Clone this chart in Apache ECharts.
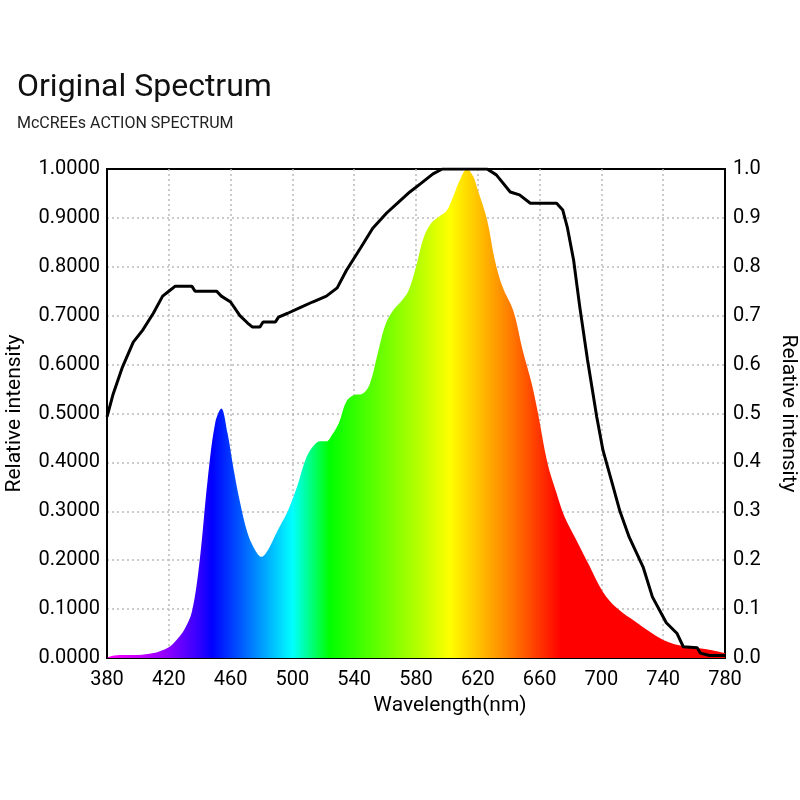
<!DOCTYPE html>
<html>
<head>
<meta charset="utf-8">
<script src="https://cdn.jsdelivr.net/npm/echarts@6/dist/echarts.min.js"></script>
<style>
html,body{margin:0;padding:0;background:#fff;}
#chart{width:800px;height:800px;}
</style>
</head>
<body>
<div id="chart"></div>
<script>
// spectrum of the lamp (nm, relative)
var specNm = [380,383,390,400,410,415,420,425,430,435,440,445,450,454,458,462,466,471,476,480,484,488,492,497,503,509,514,518,522,526,530,535,540,545,550,555,560,565,570,575,580,585,590,595,600,604,608,613,617,620,626,631,636,643,649,655,659,665,671,676,684,692,701,710,723,740,755,768,780];
var specVal = [0,0.004,0.006,0.006,0.01,0.015,0.022,0.037,0.058,0.095,0.2,0.36,0.48,0.51,0.46,0.385,0.32,0.255,0.22,0.207,0.22,0.245,0.27,0.3,0.35,0.41,0.435,0.443,0.443,0.458,0.48,0.525,0.538,0.54,0.56,0.62,0.68,0.71,0.728,0.75,0.8,0.86,0.89,0.903,0.915,0.943,0.975,1.0,0.985,0.957,0.896,0.814,0.759,0.71,0.63,0.56,0.5,0.4,0.337,0.29,0.24,0.19,0.135,0.102,0.072,0.037,0.023,0.018,0.01];

// McCree action spectrum
var mcNm = [380,384,390,397,403,410,416,420,424,435,437,451,454,460,466,471,474,479,481,489,491,497,506,513,522,529,535,544,552,561,568,576,583,591,597,626,632,641,647,654,671,675,678,682,686,691,697,701,707,712,718,727,733,742,749,753,762,764,770,780];
var mcVal = [0.493,0.54,0.595,0.646,0.67,0.705,0.74,0.75,0.76,0.76,0.75,0.75,0.74,0.728,0.70,0.685,0.677,0.677,0.687,0.687,0.697,0.705,0.718,0.728,0.74,0.757,0.793,0.838,0.879,0.91,0.93,0.953,0.97,0.99,1.0,1.0,0.988,0.953,0.947,0.93,0.93,0.916,0.88,0.814,0.718,0.61,0.493,0.425,0.357,0.30,0.247,0.186,0.125,0.072,0.05,0.023,0.021,0.01,0.005,0.005];

// wavelength colours along x
var rainbow = [
    {offset:0.00, color:'#ff00ff'},
    {offset:0.05, color:'#c800ff'},
    {offset:0.10, color:'#8a00ff'},
    {offset:0.15, color:'#3000ff'},
    {offset:0.17, color:'#0000ff'},
    {offset:0.22, color:'#0060ff'},
    {offset:0.30, color:'#00ffff'},
    {offset:0.36, color:'#00ff00'},
    {offset:0.50, color:'#b0ff00'},
    {offset:0.555, color:'#ffff00'},
    {offset:0.65, color:'#ff8000'},
    {offset:0.735, color:'#ff0000'},
    {offset:1.00, color:'#ff0000'}
];

function pairs(xs, ys) {
    return xs.map(function (x, i) { return [x, ys[i]]; });
}

var font = 'Roboto';
var gridLine = {show: true, showMinLine: false, showMaxLine: false,
    lineStyle: {color: '#bbb', type: [2, 3], width: 1.5}};

var chart = echarts.init(document.getElementById('chart'));
chart.setOption({
    backgroundColor: '#fff',
    animation: false,
    title: {
        text: 'Original Spectrum',
        subtext: 'McCREEs ACTION SPECTRUM',
        left: 12,
        top: 67,
        itemGap: 12,
        textStyle: {fontFamily: font, fontSize: 32, fontWeight: 'normal', color: '#111'},
        subtextStyle: {fontFamily: font, fontSize: 16, color: '#222'}
    },
    grid: {
        left: 107, right: 75, top: 169, bottom: 142,
        outerBoundsMode: 'none',
        show: true, borderColor: '#000', borderWidth: 2, backgroundColor: 'transparent'
    },
    xAxis: {
        type: 'value',
        min: 380, max: 780, interval: 40,
        name: 'Wavelength(nm)',
        nameLocation: 'middle',
        nameGap: 30,
        nameTextStyle: {fontFamily: font, fontSize: 21, color: '#000', padding: [0, 0, 0, 68]},
        axisLine: {show: true, onZero: false, lineStyle: {color: '#000', width: 2}},
        axisTick: {show: false},
        axisLabel: {fontFamily: font, fontSize: 20, color: '#000', margin: 12},
        splitLine: gridLine
    },
    yAxis: [{
        type: 'value',
        min: 0, max: 1, interval: 0.1,
        name: 'Relative intensity',
        nameLocation: 'middle',
        nameGap: 82,
        nameTextStyle: {fontFamily: font, fontSize: 21, color: '#000'},
        axisLine: {show: true, lineStyle: {color: '#000', width: 2}},
        axisTick: {show: false},
        axisLabel: {fontFamily: font, fontSize: 20, color: '#000', margin: 7,
            formatter: function (v) { return v.toFixed(4); }},
        splitLine: gridLine
    }, {
        type: 'value',
        min: 0, max: 1, interval: 0.1,
        position: 'right',
        name: 'Relative intensity',
        nameLocation: 'middle',
        nameGap: 53,
        nameRotate: -90,
        nameTextStyle: {fontFamily: font, fontSize: 21, color: '#000'},
        axisLine: {show: true, lineStyle: {color: '#000', width: 2}},
        axisTick: {show: false},
        axisLabel: {fontFamily: font, fontSize: 20, color: '#000', margin: 8,
            formatter: function (v) { return v.toFixed(1); }},
        splitLine: {show: false}
    }],
    series: [{
        name: 'Spectrum',
        type: 'line',
        yAxisIndex: 0,
        data: pairs(specNm, specVal),
        smooth: 0.35,
        symbol: 'none',
        lineStyle: {width: 0},
        areaStyle: {
            opacity: 1,
            color: new echarts.graphic.LinearGradient(0, 0, 1, 0, rainbow)
        },
        z: 2
    }, {
        name: 'McCree',
        type: 'line',
        yAxisIndex: 1,
        data: pairs(mcNm, mcVal),
        symbol: 'none',
        lineStyle: {color: '#000', width: 3},
        z: 3
    }]
});
</script>
</body>
</html>
